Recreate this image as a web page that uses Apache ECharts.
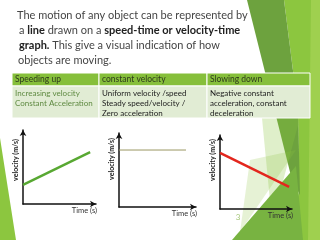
<!DOCTYPE html>
<html><head><meta charset="utf-8">
<script src="https://cdn.jsdelivr.net/npm/echarts@6/dist/echarts.min.js"></script>
<style>html,body{margin:0;padding:0;background:#fff}#c{width:320px;height:240px}</style>
</head><body><div id="c"></div>
<script>
// ---- data ----
const tableHeaders = ['Speeding up', 'constant velocity', 'Slowing down'];
const tableBody1 = ['Increasing velocity', 'Constant Acceleration'];
const tableBody2 = ['Uniform velocity /speed', 'Steady speed/velocity /', 'Zero acceleration'];
const tableBody3 = ['Negative constant', 'acceleration, constant', 'deceleration'];
const xAxisName = 'Time (s)';
const yAxisName = 'velocity (m/s)';
const time1 = [0, 9.2];
const vel1 = [2.6, 7.0];
const time2 = [0, 8.7];
const vel2 = [7.7, 7.7];
const time3 = [0, 9.6];
const vel3 = [7.6, 3.0];
const pageNumber = '3';

const FONT = 'Lato';
const chart = echarts.init(document.getElementById('c'), null, {renderer: 'canvas'});

function pairs(t, v) { return t.map((x, i) => [x, v[i]]); }

const grids = [
  {left: 23, top: 130, width: 73, height: 74},
  {left: 119, top: 133, width: 77, height: 74},
  {left: 220, top: 135, width: 72, height: 74}
];
const yPads = [14, 22, 24];

const xAxes = grids.map((g, i) => ({
  type: 'value', gridIndex: i, min: 0, max: 10,
  axisLine: {show: true, symbol: ['none', 'arrow'], symbolSize: [5, 6], lineStyle: {color: '#111', width: 1.5}},
  axisTick: {show: false}, axisLabel: {show: false}, splitLine: {show: false},
  name: xAxisName, nameLocation: 'end', nameGap: 1,
  nameTextStyle: {align: 'right', verticalAlign: 'top', padding: [3, 0, 0, 0], fontSize: 7.5, fontFamily: FONT, color: '#333'}
}));
const yAxes = grids.map((g, i) => ({
  type: 'value', gridIndex: i, min: 0, max: 10,
  axisLine: {show: true, symbol: ['none', 'arrow'], symbolSize: [5, 6], lineStyle: {color: '#111', width: 1.5}},
  axisTick: {show: false}, axisLabel: {show: false}, splitLine: {show: false},
  name: yAxisName, nameLocation: 'middle', nameGap: 4, nameRotate: 90,
  nameTextStyle: {fontSize: 7, fontWeight: 'bold', fontFamily: FONT, color: '#222', padding: [0, 0, 0, yPads[i]]}
}));

const series = [
  {type: 'line', xAxisIndex: 0, yAxisIndex: 0, data: pairs(time1, vel1), symbol: 'none', lineStyle: {color: '#58a832', width: 2.5}},
  {type: 'line', xAxisIndex: 1, yAxisIndex: 1, data: pairs(time2, vel2), symbol: 'none', lineStyle: {color: '#9a9763', width: 1}},
  {type: 'line', xAxisIndex: 2, yAxisIndex: 2, data: pairs(time3, vel3), symbol: 'none', lineStyle: {color: '#e3261d', width: 2.5}}
];

// decorations
const deco = [
  {type: 'polygon', shape: {points: [[0, 138], [0, 240], [16, 240]]}, style: {fill: '#8cc63f'}},
  {type: 'polygon', shape: {points: [[284, 0], [320, 0], [320, 240], [292, 240], [299, 190], [298, 110]]}, style: {fill: '#8cc63f'}},
  {type: 'polygon', shape: {points: [[311, 0], [320, 0], [320, 240], [308, 240]]}, style: {fill: '#9fd04f'}},
  {type: 'polygon', shape: {points: [[247, 0], [284, 0], [298, 110], [300, 195], [292, 180]]}, style: {fill: '#6da23e'}},
  {type: 'polygon', shape: {points: [[262, 118], [300, 118], [272, 222]]}, style: {fill: 'rgba(140,198,63,0.28)'}},
  {type: 'polygon', shape: {points: [[250, 160], [296, 150], [240, 232]]}, style: {fill: 'rgba(140,198,63,0.22)'}},
  {type: 'polygon', shape: {points: [[232, 240], [296, 166], [303, 240]]}, style: {fill: '#78b341'}}
];

// paragraph
const N = '#454545', B = '#222';
const rich = {
  n: {fontSize: 11, fontFamily: FONT, fill: N},
  b: {fontSize: 11, fontFamily: FONT, fontWeight: 'bold', fill: B}
};
const paraLines = [
  [17, 15, '{n|The motion of any object can be represented by}'],
  [19, 30, '{n|a }{b|line}{n| drawn on a }{b|speed-time or velocity-time}'],
  [19, 45, '{b|graph.}{n| This give a visual indication of how}'],
  [18, 60, '{n|objects are moving.}']
];
const para = paraLines.map(l => ({type: 'text', x: l[0], y: l[1], style: {text: l[2], rich: rich, verticalAlign: 'middle'}}));

// table
const colX = [12, 99, 207, 310];
const tbl = [];
for (let c = 0; c < 3; c++) {
  tbl.push({type: 'rect', shape: {x: colX[c], y: 73, width: colX[c + 1] - colX[c], height: 13}, style: {fill: '#86bf3b', stroke: '#fff', lineWidth: 1}});
  tbl.push({type: 'rect', shape: {x: colX[c], y: 86, width: colX[c + 1] - colX[c], height: 32}, style: {fill: '#e1ecd4', stroke: '#fff', lineWidth: 1}});
  tbl.push({type: 'text', x: colX[c] + 3, y: 79.5, style: {text: tableHeaders[c], font: '8.5px ' + FONT, fill: '#2e3a1c', verticalAlign: 'middle'}});
}
const bodies = [tableBody1, tableBody2, tableBody3];
const bodyColors = ['#5f8a42', '#1c1c1c', '#1c1c1c'];
bodies.forEach((arr, c) => arr.forEach((t, j) => {
  tbl.push({type: 'text', x: colX[c] + 3, y: 93 + j * 10, style: {text: t, font: '8px ' + FONT, fill: bodyColors[c], verticalAlign: 'middle'}});
}));
tbl.push({type: 'text', x: 238, y: 217, style: {text: pageNumber, font: '8px ' + FONT, fill: '#a6c77a', verticalAlign: 'middle', align: 'center'}});

chart.setOption({
  animation: false,
  grid: grids,
  xAxis: xAxes,
  yAxis: yAxes,
  series: series,
  graphic: [].concat(deco.map(d => Object.assign({z: -10, silent: true}, d)), para, tbl)
});
</script></body></html>
